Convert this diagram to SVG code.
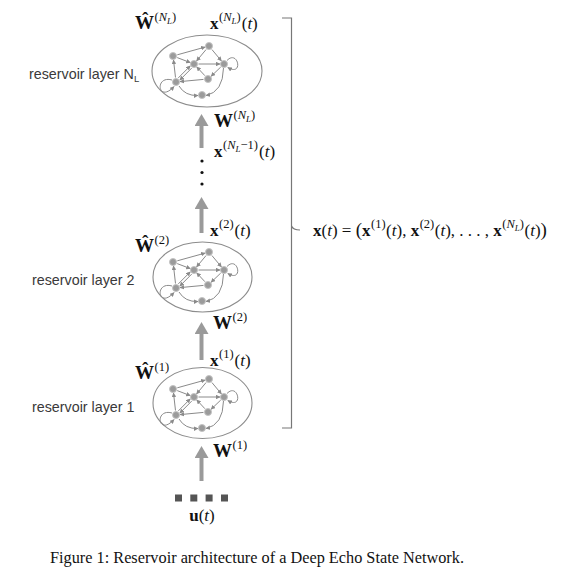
<svg xmlns="http://www.w3.org/2000/svg" xmlns:xlink="http://www.w3.org/1999/xlink" width="562" height="579" viewBox="0 0 562 579">
<style>
.m{font-family:"Liberation Serif",serif;font-size:17px;fill:#111}
.b{font-weight:bold}
.i{font-style:italic}
.s{font-size:12.5px}
.ss{font-size:9px}
.W{font-weight:bold;font-size:19px}
.lab{font-family:"Liberation Sans",Arial,sans-serif;font-size:14.3px;fill:#3a3a3a}
.res{fill:none;stroke:#8c8c8c;stroke-width:1.1}
.e{fill:none;stroke:#8a8a8a;stroke-width:1;marker-end:url(#ah)}
.nd{fill:#9b9b9b;stroke:#c4c4c4;stroke-width:1}
.big{stroke:#9a9a9a;stroke-width:4;marker-end:url(#big)}
.sq{fill:#555}
</style>
<defs>
<marker id="ah" viewBox="0 0 10 10" refX="9" refY="5" markerWidth="4.5" markerHeight="4.5" markerUnits="userSpaceOnUse" orient="auto"><path d="M0,0 L10,5 L0,10 z" fill="#8a8a8a"/></marker>
<marker id="big" viewBox="0 0 12 14" refX="2" refY="7" markerWidth="12" markerHeight="14" markerUnits="userSpaceOnUse" orient="auto"><path d="M0,0 L12,7 L0,14 z" fill="#9a9a9a"/></marker>
<g id="net">
<line class="e" x1="177.3" y1="54.8" x2="205.1" y2="47.1"/>
<line class="e" x1="177.2" y1="57.6" x2="190.3" y2="62.6"/>
<line class="e" x1="206.1" y1="49.5" x2="196.6" y2="60.9"/>
<line class="e" x1="211.9" y1="49.5" x2="221.4" y2="60.9"/>
<line class="e" x1="198.5" y1="64" x2="220" y2="64"/>
<line class="e" x1="204.9" y1="75.7" x2="196.7" y2="66.9"/>
<line class="e" x1="220.7" y1="67.1" x2="211.1" y2="76.3"/>
<line class="e" x1="203.5" y1="79.4" x2="180" y2="81.6"/>
<line class="e" x1="175.5" y1="77.5" x2="173.5" y2="60"/>
<line class="e" x1="178.3" y1="77.9" x2="190.3" y2="65.9"/>
<line class="e" x1="191.7" y1="68.1" x2="179.8" y2="80.1"/>
<path class="e" d="M179,86 Q185,96 198,95.5"/>
<path class="e" d="M223.5,68 Q223,92 206,95.5"/>
<path class="e" d="M172,80 C154,75 158,104 174,86.5"/>
<path class="e" d="M227,60.5 C238,49 244,77 227.8,67.5"/>
<circle class="nd" cx="173" cy="56" r="3.5"/>
<circle class="nd" cx="209" cy="46" r="3.5"/>
<circle class="nd" cx="194" cy="64" r="3.5"/>
<circle class="nd" cx="224" cy="64" r="3.5"/>
<circle class="nd" cx="208" cy="79" r="3.5"/>
<circle class="nd" cx="176" cy="82" r="3.5"/>
<circle class="nd" cx="202" cy="95" r="3.5"/>
</g>
</defs>

<g id="layerNL">
<ellipse class="res" cx="207" cy="71" rx="55" ry="36"/>
<use xlink:href="#net" href="#net"/>
<text class="lab" x="29" y="79">reservoir layer N<tspan font-size="9.5" dy="3">L</tspan></text>
<text class="m" x="135" y="29"><tspan class="W">Ŵ</tspan><tspan class="s" dx="0.5" dy="-8">(</tspan><tspan class="s i">N</tspan><tspan class="ss i" dy="2.5">L</tspan><tspan class="s" dy="-2.5">)</tspan></text>
<text class="m" x="210" y="29"><tspan class="b">x</tspan><tspan class="s" dx="0.5" dy="-8">(</tspan><tspan class="s i">N</tspan><tspan class="ss i" dy="2.5">L</tspan><tspan class="s" dy="-2.5">)</tspan><tspan dx="1" dy="8">(</tspan><tspan class="i">t</tspan>)</text>
</g>

<g id="layer2">
<ellipse class="res" cx="202.5" cy="277" rx="49.5" ry="35"/>
<use xlink:href="#net" href="#net" transform="translate(0,206)"/>
<text class="lab" x="32" y="285">reservoir layer 2</text>
<text class="m" x="135" y="252"><tspan class="W">Ŵ</tspan><tspan class="s" dx="0.5" dy="-8">(2)</tspan></text>
</g>

<g id="layer1">
<ellipse class="res" cx="202.5" cy="403" rx="49.5" ry="35.5"/>
<use xlink:href="#net" href="#net" transform="translate(0,333)"/>
<text class="lab" x="32" y="412">reservoir layer 1</text>
<text class="m" x="135" y="379"><tspan class="W">Ŵ</tspan><tspan class="s" dx="0.5" dy="-8">(1)</tspan></text>
</g>

<g id="input">
<rect class="sq" x="175" y="494.5" width="7" height="7"/>
<rect class="sq" x="190.3" y="494.5" width="7" height="7"/>
<rect class="sq" x="205.6" y="494.5" width="7" height="7"/>
<rect class="sq" x="221" y="494.5" width="7" height="7"/>
<text class="m" x="202" y="521" text-anchor="middle"><tspan class="b">u</tspan>(<tspan class="i">t</tspan>)</text>
</g>

<g id="connectors">
<line class="big" x1="201.5" y1="148" x2="201.5" y2="124"/>
<line class="big" x1="201.5" y1="233" x2="201.5" y2="207"/>
<line class="big" x1="201.5" y1="360" x2="201.5" y2="332"/>
<line class="big" x1="201.5" y1="481" x2="201.5" y2="456"/>
<circle cx="202" cy="161" r="1.6" fill="#111"/>
<circle cx="202" cy="172.5" r="1.6" fill="#111"/>
<circle cx="202" cy="184" r="1.6" fill="#111"/>
<text class="m" x="214" y="127"><tspan class="W">W</tspan><tspan class="s" dx="0.5" dy="-8">(</tspan><tspan class="s i">N</tspan><tspan class="ss i" dy="2.5">L</tspan><tspan class="s" dy="-2.5">)</tspan></text>
<text class="m" x="214" y="157"><tspan class="b">x</tspan><tspan class="s" dx="0.5" dy="-8">(</tspan><tspan class="s i">N</tspan><tspan class="ss i" dy="2.5">L</tspan><tspan class="s" dy="-2.5">−1)</tspan><tspan dx="1" dy="8">(</tspan><tspan class="i">t</tspan>)</text>
<text class="m" x="210" y="236"><tspan class="b">x</tspan><tspan class="s" dx="0.5" dy="-8">(2)</tspan><tspan dx="1" dy="8">(</tspan><tspan class="i">t</tspan>)</text>
<text class="m" x="213" y="329"><tspan class="W">W</tspan><tspan class="s" dx="0.5" dy="-8">(2)</tspan></text>
<text class="m" x="210" y="366"><tspan class="b">x</tspan><tspan class="s" dx="0.5" dy="-8">(1)</tspan><tspan dx="1" dy="8">(</tspan><tspan class="i">t</tspan>)</text>
<text class="m" x="213" y="457"><tspan class="W">W</tspan><tspan class="s" dx="0.5" dy="-8">(1)</tspan></text>
</g>

<g id="brace">
<path d="M282,18 L291.5,18 L291.5,428 L282,428" fill="none" stroke="#777" stroke-width="1.2"/>
<path d="M291.5,226 Q293,230 300,230" fill="none" stroke="#777" stroke-width="1.2"/>
<text class="m" x="313" y="236"><tspan class="b">x</tspan>(<tspan class="i">t</tspan>) = <tspan font-size="19">(</tspan><tspan class="b">x</tspan><tspan class="s" dx="0.5" dy="-8">(1)</tspan><tspan dx="0.5" dy="8">(</tspan><tspan class="i">t</tspan>), <tspan class="b">x</tspan><tspan class="s" dx="0.5" dy="-8">(2)</tspan><tspan dx="0.5" dy="8">(</tspan><tspan class="i">t</tspan>), . . . , <tspan class="b">x</tspan><tspan class="s" dx="0.5" dy="-8">(</tspan><tspan class="s i">N</tspan><tspan class="ss i" dy="2.5">L</tspan><tspan class="s" dy="-2.5">)</tspan><tspan dx="0.5" dy="8">(</tspan><tspan class="i">t</tspan>)<tspan font-size="19">)</tspan></text>
</g>

<text class="m" x="50" y="563" font-size="15" textLength="414" lengthAdjust="spacingAndGlyphs">Figure 1: Reservoir architecture of a Deep Echo State Network.</text>
</svg>
